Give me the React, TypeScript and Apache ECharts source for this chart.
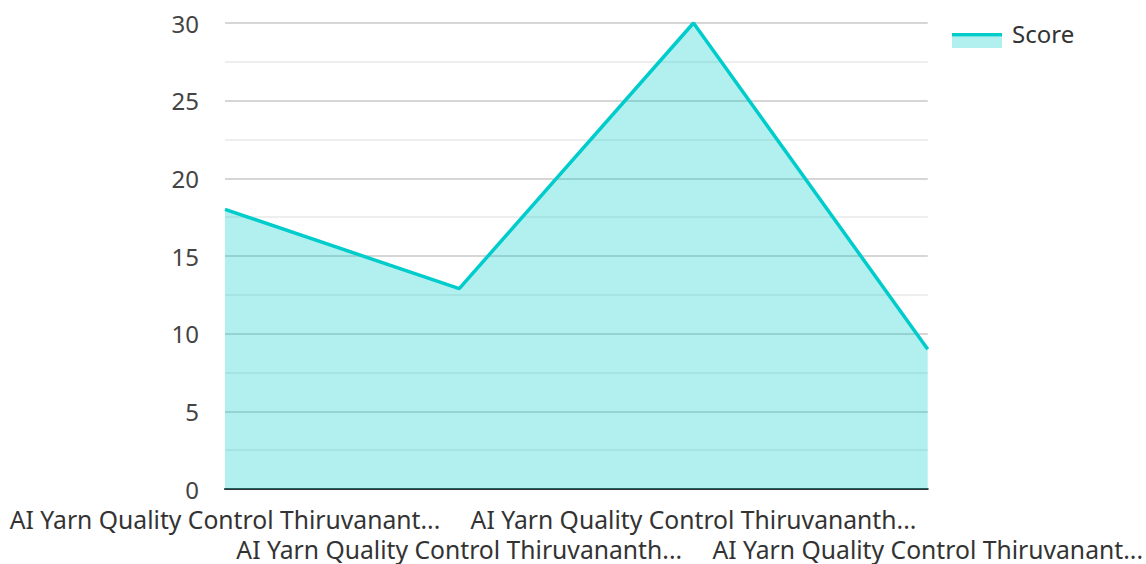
import React, { useEffect, useRef } from "react";
import * as echarts from "echarts";

const categories = [
  "AI Yarn Quality Control Thiruvanant...",
  "AI Yarn Quality Control Thiruvananth...",
  "AI Yarn Quality Control Thiruvananth...",
  "AI Yarn Quality Control Thiruvanant...",
];
const scoreValues = [18, 12.9, 30, 9];
const seriesName = "Score";

const LINE_COLOR = "#00cccc";
const AREA_COLOR = "#b2efef";

export default function App() {
  const ref = useRef<HTMLDivElement>(null);
  useEffect(() => {
    if (!ref.current) return;
    const chart = echarts.init(ref.current, null, { renderer: "svg" });
    chart.setOption({
      animation: false,
      textStyle: { fontFamily: "Noto Sans" },
      legend: {
        left: 952,
        top: 16,
        itemWidth: 50,
        itemHeight: 15,
        itemGap: 10,
        icon: "rect",
        itemStyle: { color: "rgba(0,0,0,0)", opacity: 0 },
        textStyle: { fontSize: 24, color: "#333", fontFamily: "Noto Sans" },
        data: [seriesName],
      },
      graphic: [
        {
          type: "rect",
          shape: { x: 952, y: 36.5, width: 50, height: 11.5 },
          style: { fill: AREA_COLOR },
          silent: true,
          z: 100,
        },
        {
          type: "rect",
          shape: { x: 952, y: 33, width: 50, height: 3.5 },
          style: { fill: LINE_COLOR },
          silent: true,
          z: 101,
        },
      ],
      grid: { left: 225, right: 218, top: 23, bottom: 74, containLabel: false },
      xAxis: {
        type: "category",
        data: categories,
        boundaryGap: false,
        axisLine: { show: true, lineStyle: { color: "#333", width: 2 } },
        axisTick: { show: false },
        splitLine: { show: false },
        axisLabel: {
          interval: 0,
          fontSize: 24.7,
          color: "#333",
          fontFamily: "Noto Sans",
          margin: 15,
          lineHeight: 30,
          formatter: (v: string, i: number) => (i % 2 === 1 ? "\n" + v : v),
        },
      },
      yAxis: {
        type: "value",
        min: 0,
        max: 30,
        interval: 5,
        axisLine: { show: false },
        axisTick: { show: false },
        axisLabel: {
          fontSize: 24,
          lineHeight: 22,
          color: "#444",
          fontFamily: "Noto Sans",
          margin: 26,
        },
        splitLine: { show: true, lineStyle: { color: "#c8c8c8", width: 1.5 } },
        minorTick: { show: false, splitNumber: 2 },
        minorSplitLine: { show: true, lineStyle: { color: "#e8e8e8", width: 1.5 } },
      },
      series: [
        {
          name: seriesName,
          type: "line",
          data: scoreValues,
          symbol: "none",
          lineStyle: { color: LINE_COLOR, width: 3.5 },
          itemStyle: { color: LINE_COLOR },
          areaStyle: { color: LINE_COLOR, opacity: 0.3 },
        },
      ],
    });
    return () => chart.dispose();
  }, []);
  return (
    <div
      ref={ref}
      style={{ position: "absolute", left: 0, top: 0, width: 1146, height: 564 }}
    />
  );
}
